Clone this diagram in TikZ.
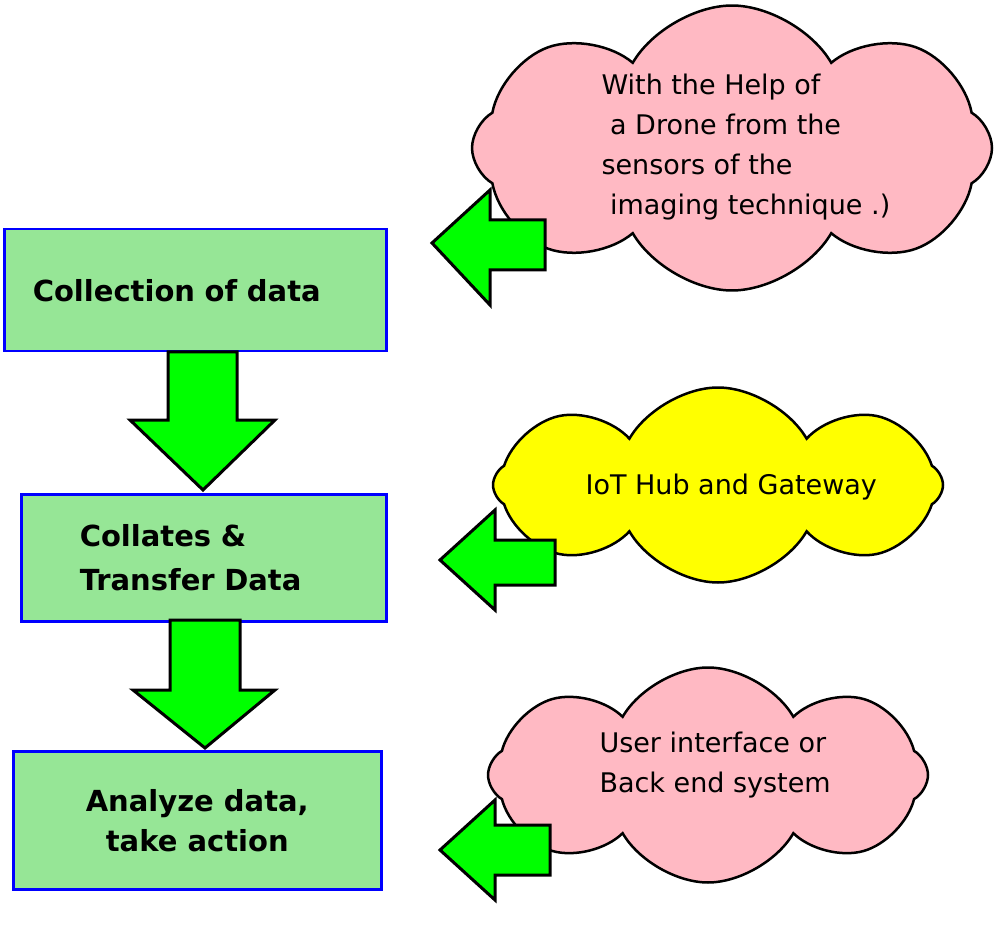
\documentclass[tikz,border=0pt]{standalone}
\usepackage{fontspec}
\setmainfont{DejaVu Sans}
\usetikzlibrary{shapes.symbols}
\definecolor{boxgreen}{RGB}{150,230,150}
\definecolor{arrgreen}{RGB}{0,255,0}
\definecolor{cpink}{RGB}{255,185,195}
\definecolor{cyellow}{RGB}{255,255,0}
\tikzset{
  box/.style={draw=blue,line width=2.5pt,fill=boxgreen,font=\bfseries\fontsize{29}{44}\selectfont,align=left,anchor=north west},
  blockarrow/.style={draw=black,line width=3pt,fill=arrgreen,line join=miter},
  cloudbox/.style={cloud,cloud puffs=8,cloud puff arc=120,aspect=1.8,draw=black,line width=2.5pt,inner sep=0pt},
  ctext/.style={font=\fontsize{27}{40}\selectfont,align=left,anchor=north west}
}
\begin{document}
\begin{tikzpicture}[x=1pt,y=-1pt]
\useasboundingbox[fill=white] (0,0) rectangle (999,925);
% boxes
\node[box,minimum width=382pt,minimum height=122pt,text width=325pt,inner xsep=28pt] (b1) at (3,228) {Collection of data};
\node[box,minimum width=365pt,minimum height=127pt,text width=248pt,inner xsep=58pt] (b2) at (20,493) {Collates \&\\Transfer Data};
\node[box,minimum width=368pt,minimum height=138pt,align=center,font=\bfseries\fontsize{29}{40}\selectfont] (b3) at (12,750) {Analyze data,\\take action};
% down arrows
\draw[blockarrow] (168,352) -- (237,352) -- (237,420) -- (275,420) -- (203,490) -- (130,420) -- (168,420) -- cycle;
\draw[blockarrow] (170,620) -- (240,620) -- (240,690) -- (275,690) -- (205,748) -- (133,690) -- (170,690) -- cycle;
% clouds
\node[cloudbox,fill=cpink,minimum width=520pt,minimum height=285pt] (c1) at (732,148) {};
\node[ctext] (t1) at (598,70) {With the Help of\\\ a Drone from the\\sensors of the\\\ imaging technique .)};
\node[cloudbox,fill=cyellow,minimum width=450pt,minimum height=195pt] (c2) at (718,485) {};
\node[ctext,anchor=west] (t2) at (582,487) {IoT Hub and Gateway};
\node[cloudbox,fill=cpink,minimum width=440pt,minimum height=215pt] (c3) at (708,775) {};
\node[ctext] (t3) at (596,728) {User interface or\\Back end system};
% left arrows
\draw[blockarrow] (432,243) -- (490,190) -- (490,220) -- (545,220) -- (545,270) -- (490,270) -- (490,305) -- cycle;
\draw[blockarrow] (440,560) -- (495,510) -- (495,540) -- (555,540) -- (555,585) -- (495,585) -- (495,610) -- cycle;
\draw[blockarrow] (440,850) -- (495,800) -- (495,825) -- (550,825) -- (550,875) -- (495,875) -- (495,900) -- cycle;
\end{tikzpicture}
\end{document}
